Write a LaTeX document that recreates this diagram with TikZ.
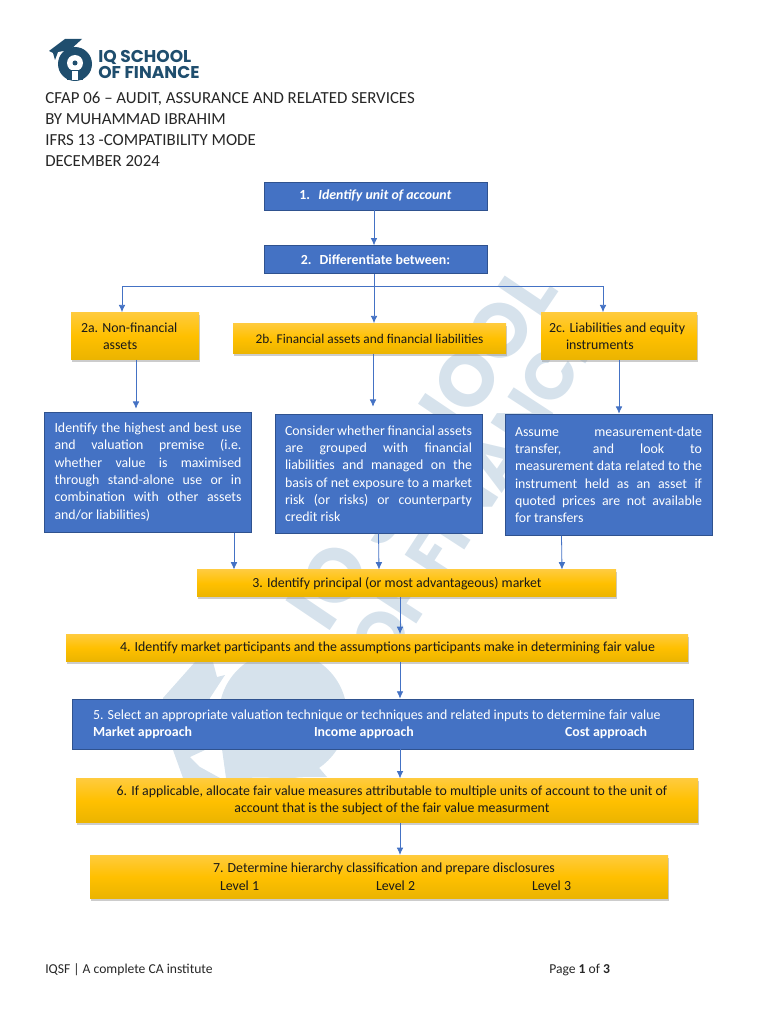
\documentclass[tikz,border=0pt]{standalone}
\usepackage{fontspec}
\setmainfont{Carlito}
\newfontfamily\logofont{Poppins}
\usepackage{xcolor}
\usetikzlibrary{arrows.meta,positioning,shadows}
\definecolor{boxblue}{HTML}{4472C4}
\definecolor{edgeblue}{HTML}{2F528F}
\definecolor{logoblue}{HTML}{1F4E6E}
\definecolor{markgrey}{HTML}{D6E2EC}
\definecolor{gold1}{HTML}{FFCB3D}
\definecolor{gold2}{HTML}{EBB400}
\definecolor{gold3}{HTML}{FFC000}
\newdimen\px
\px=0.75pt
\tikzset{
  blueblock/.style={draw=edgeblue, line width=0.6pt, fill=boxblue, text=white, inner sep=0pt, align=justify, font=\fontsize{10.4}{13}\selectfont},
  bluebar/.style={draw=edgeblue, line width=0.6pt, fill=boxblue, text=white, inner sep=0pt, align=flush center, font=\fontsize{10.4}{13}\selectfont\bfseries},
  goldblock/.style={top color=gold1, bottom color=gold2, middle color=gold3, inner sep=0pt, align=flush left, text=black!90, font=\fontsize{10.4}{13}\selectfont, drop shadow={shadow xshift=1pt, shadow yshift=-2pt, fill=black!40}},
  flow/.style={->, >={Latex[length=5.5pt,width=5pt]}, draw=boxblue, line width=0.6pt},
  markword/.style 2 args={text=markgrey, rotate=#1, font=\logofont\bfseries\fontsize{#2}{#2}\selectfont, inner sep=0pt}
}
\begin{document}
\begin{tikzpicture}[x=0.75pt, y=-0.75pt, node distance=35*\px]
  \useasboundingbox (0,0) rectangle (768,1024);

  \node[markword={56}{57}] (markOne) at (425,450) {IQ SCHOOL};
  \node[markword={57}{50.5}] (markTwo) at (475,491) {OF FINANCE};
  \fill[markgrey] (283,715) circle (64);
  \fill[markgrey] (222,749) -- (303,749) -- (327,777) -- (226,778) -- cycle;
  \fill[markgrey] (163,698) -- (195,662) -- (213,662) -- (217,677) -- (225,675) -- (210,698) -- (205,750) -- (190,757) -- (200,767) -- (220,778) -- (183,778) -- (173,750) -- cycle;

  \fill[logoblue] (49,51) -- (65,39) -- (82,39) -- (70,50) -- (58,52) -- (55,60) -- (53,53) -- cycle;
  \fill[logoblue] (75,64) circle (17);
  \fill[white] (75,63) circle (8);
  \fill[logoblue] (75,63) circle (2.5);
  \fill[logoblue] (67,70) rectangle (83,80);
  \fill[white] (72,71) rectangle (78,80);
  \node[anchor=north west, inner sep=0pt, align=flush left, text=logoblue, font=\logofont\bfseries\fontsize{12.8}{11.6}\selectfont] (logoText) at (98,50.5) {IQ SCHOOL\\OF FINANCE};

  \node[anchor=north west, inner sep=0pt, align=flush left, text=black!85, font=\fontsize{12.65}{15.75}\selectfont] (header) at (45,91.5) {CFAP 06 -- AUDIT, ASSURANCE AND RELATED SERVICES\\BY MUHAMMAD IBRAHIM\\IFRS 13 -COMPATIBILITY MODE\\DECEMBER 2024};

  \node[bluebar, minimum width=223*\px, minimum height=28*\px] (stepOne) at (375.5,196) {1.\hspace{3pt} \textit{Identify unit of account}};
  \node[bluebar, minimum width=223*\px, minimum height=28*\px, below=of stepOne] (stepTwo) {2.\hspace{3pt} Differentiate between:};

  \node[goldblock, minimum width=128*\px, minimum height=47*\px, text width=108*\px, below=38*\px of stepTwo, xshift=-240.5*\px] (stepTwoA) {2a. Non-financial\\\hspace*{22\px}assets};
  \node[goldblock, minimum width=273*\px, minimum height=30*\px, align=flush center, font=\fontsize{10}{13}\selectfont, below=49*\px of stepTwo, xshift=-6*\px] (stepTwoB) {2b. Financial assets and financial liabilities};
  \node[goldblock, minimum width=156*\px, minimum height=47*\px, text width=140*\px, below=38*\px of stepTwo, xshift=243.5*\px] (stepTwoC) {2c. Liabilities and equity\\\hspace*{17\px}instruments};

  \node[blueblock, minimum width=207*\px, minimum height=120*\px, text width=187*\px, below=52*\px of stepTwoA, xshift=13*\px] (unitA) {Identify the highest and best use\linebreak and valuation premise (i.e.\linebreak whether value is maximised\linebreak through stand-alone use or in\linebreak combination with other assets\linebreak and/or liabilities)};
  \node[blueblock, minimum width=207*\px, minimum height=119*\px, text width=187*\px, below=60*\px of stepTwoB, xshift=9*\px] (unitB) {Consider whether financial assets\linebreak are grouped with financial\linebreak liabilities and managed on the\linebreak basis of net exposure to a market\linebreak risk (or risks) or counterparty\linebreak credit risk};
  \node[blueblock, minimum width=207*\px, minimum height=121*\px, text width=187*\px, below=54*\px of stepTwoC, xshift=-10.5*\px] (unitC) {Assume measurement-date\linebreak transfer, and look to\linebreak measurement data related to the\linebreak instrument held as an asset if\linebreak quoted prices are not available\linebreak for transfers};

  \node[goldblock, minimum width=419*\px, minimum height=27*\px, below=36*\px of unitB, xshift=28*\px] (stepThree) {3. Identify principal (or most advantageous) market\hspace*{19\px}};
  \node[goldblock, minimum width=622*\px, minimum height=27*\px, below=37*\px of stepThree, xshift=-29.5*\px] (stepFour) {\hspace*{21\px}4. Identify market participants and the assumptions participants make in determining fair value};
  \node[blueblock, align=flush left, minimum width=621*\px, minimum height=50*\px, text width=579*\px, below=37*\px of stepFour, xshift=5.5*\px] (stepFive) {5. Select an appropriate valuation technique or techniques and related inputs to determine fair value\\\makebox[221\px][l]{\textbf{Market approach}}\makebox[251\px][l]{\textbf{Income approach}}\textbf{Cost approach}};
  \node[goldblock, align=flush center, minimum width=622*\px, minimum height=44*\px, below=29*\px of stepFive, xshift=4.5*\px] (stepSix) {\hspace*{10\px}6. If applicable, allocate fair value measures attributable to multiple units of account to the unit of\\\hspace*{10\px}account that is the subject of the fair value measurment};
  \node[goldblock, minimum width=578*\px, minimum height=43*\px, text width=558*\px, below=32*\px of stepSix, xshift=-8*\px] (stepSeven) {\hspace*{113\px}7. Determine hierarchy classification and prepare disclosures\\\hspace*{120\px}\makebox[156\px][l]{Level 1}\makebox[156\px][l]{Level 2}Level 3};

  \node[anchor=west, inner sep=0pt, text=black!85, font=\fontsize{10.2}{12}\selectfont] (footLeft) at (45,970) {IQSF | A complete CA institute};
  \node[anchor=west, inner sep=0pt, text=black!85, font=\fontsize{10.2}{12}\selectfont] (footRight) at (549,970) {Page \textbf{1} of \textbf{3}};

  \coordinate (split) at (374,286);
  \coordinate (laneMid) at (400,0);
  \draw[flow] (stepOne.south -| split) -- (stepTwo.north -| split);
  \draw[flow] (stepTwo.south -| split) -- (stepTwoB.north -| split);
  \draw[flow] (split) -| ([xshift=-13*\px]stepTwoA.north);
  \draw[flow] (split) -| ([xshift=-16*\px]stepTwoC.north);
  \draw[flow] ([xshift=1*\px]stepTwoA.south) -- ([xshift=-12*\px, yshift=3*\px]unitA.north);
  \draw[flow] ([xshift=3.5*\px]stepTwoB.south) -- ([xshift=-5.5*\px, yshift=7*\px]unitB.north);
  \draw[flow] (stepTwoC.south) -- ([xshift=10.5*\px]unitC.north);
  \draw[flow] ([xshift=86*\px]unitA.south) -- ([xshift=-172.5*\px]stepThree.north);
  \draw[flow] (unitB.south) -- ([xshift=-27.5*\px]stepThree.north);
  \draw[flow] ([xshift=-47*\px]unitC.south) -- ([xshift=155.5*\px]stepThree.north);
  \draw[flow] (stepThree.south -| laneMid) -- (stepFour.north -| laneMid);
  \draw[flow] (stepFour.south -| laneMid) -- (stepFive.north -| laneMid);
  \draw[flow] (stepFive.south -| laneMid) -- (stepSix.north -| laneMid);
  \draw[flow] (stepSix.south -| laneMid) -- (stepSeven.north -| laneMid);
\end{tikzpicture}
\end{document}
